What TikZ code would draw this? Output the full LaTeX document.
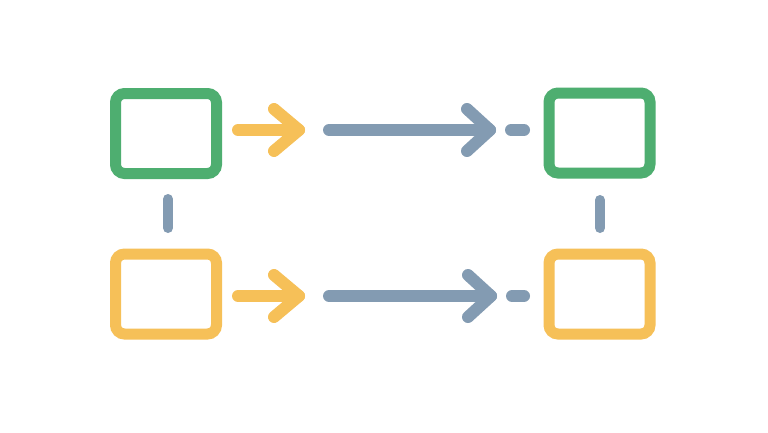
\documentclass[tikz,border=0pt]{standalone}
\begin{document}
\begin{tikzpicture}[x=1pt,y=-1pt,
  boxg/.style={draw=boxgreen,line width=11pt,rounded corners=9pt,minimum width=101pt,minimum height=80pt,inner sep=0pt,fill=white},
  boxy/.style={boxg,draw=boxyellow},
  stroke/.style={line width=12pt,line cap=round,line join=round},
  yline/.style={stroke,draw=boxyellow},
  gline/.style={stroke,draw=linegray},
  thin/.style={line width=10pt,line cap=round,draw=linegray}]
\definecolor{boxgreen}{RGB}{78,174,112}
\definecolor{boxyellow}{RGB}{246,192,88}
\definecolor{linegray}{RGB}{131,155,178}
\useasboundingbox[fill=white] (0,0) rectangle (768,432);
\node[boxg] (g1) at (166,133.5) {};
\node[boxg] (g2) at (599.5,133) {};
\node[boxy] (y1) at (166,294) {};
\node[boxy] (y2) at (599.5,294) {};
% top row
\coordinate (ya1) at (238,130); \coordinate (yt1) at (299,130);
\coordinate (ga1) at (329,130); \coordinate (gt1) at (490,130);
\coordinate (d1a) at (511,130); \coordinate (d1b) at (524,130);
\draw[yline] (ya1) -- (yt1);
\draw[yline] ([shift={(-25,-21)}]yt1) -- (yt1) -- ([shift={(-25,21)}]yt1);
\draw[gline] (ga1) -- (gt1);
\draw[gline] ([shift={(-23,-21)}]gt1) -- (gt1) -- ([shift={(-23,21)}]gt1);
\draw[gline] (d1a) -- (d1b);
% bottom row
\coordinate (ya2) at (238,296); \coordinate (yt2) at (299,296);
\coordinate (ga2) at (329,296); \coordinate (gt2) at (491,296);
\coordinate (d2a) at (512,296); \coordinate (d2b) at (524,296);
\draw[yline] (ya2) -- (yt2);
\draw[yline] ([shift={(-25,-21)}]yt2) -- (yt2) -- ([shift={(-25,21)}]yt2);
\draw[gline] (ga2) -- (gt2);
\draw[gline] ([shift={(-23,-21)}]gt2) -- (gt2) -- ([shift={(-23,21)}]gt2);
\draw[gline] (d2a) -- (d2b);
% vertical dashes
\coordinate (v1a) at (168,199); \coordinate (v1b) at (168,228);
\coordinate (v2a) at (600,200); \coordinate (v2b) at (600,228);
\draw[thin] (v1a) -- (v1b);
\draw[thin] (v2a) -- (v2b);
\end{tikzpicture}
\end{document}
